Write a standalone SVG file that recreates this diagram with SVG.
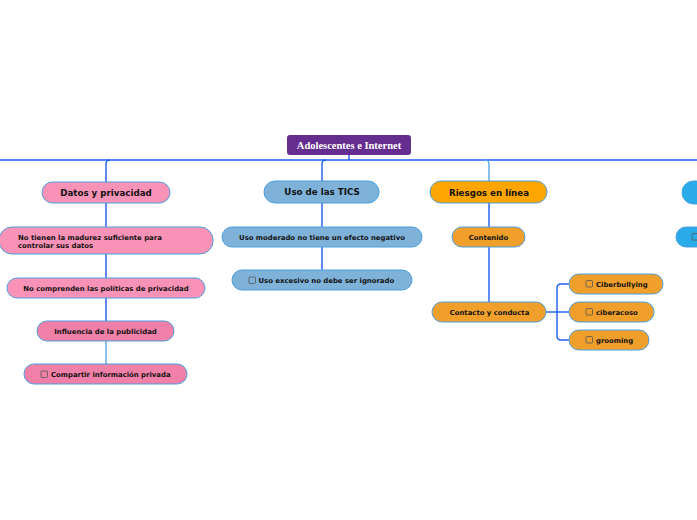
<svg xmlns="http://www.w3.org/2000/svg" width="697" height="520" viewBox="0 0 697 520">
<style>
.bg{fill:#ffffff}
.n{stroke:#4a9fe0;stroke-width:1}
.pk{fill:#f892b6}
.pk2{fill:#f080a8}
.bl{fill:#7fb2d9}
.or{fill:#ffa500}
.or2{fill:#f0a02a}
.cy{fill:#29abe9}
.t{font-family:"DejaVu Sans",Verdana,sans-serif;font-weight:bold;fill:#111111}
.main{font-size:8.7px}
.sub{font-size:6.9px}
.root{font-family:"Liberation Serif","Times New Roman",serif;font-weight:bold;font-size:10.5px;fill:#ffffff}
.cb{fill:none;stroke:#555555;stroke-width:0.8}
.c{fill:none;stroke:#1f5cf5;stroke-width:1.4}
.cl{fill:none;stroke:#58a6e8;stroke-width:1.4}
</style>
<rect class="bg" x="0" y="0" width="697" height="520"/>
<g id="connectors">
<path class="c" d="M349,155 V160"/>
<path class="c" d="M0,160 H697"/>
<path class="c" d="M106,182 V164 Q106,160 110,160"/>
<path class="c" d="M322,181 V164 Q322,160 326,160"/>
<path class="cl" d="M489,181 V164 Q489,160 485,160"/>
<path class="c" d="M106,203 V227"/>
<path class="c" d="M106,254 V278"/>
<path class="c" d="M106,298 V321"/>
<path class="cl" d="M106,341 V364"/>
<path class="c" d="M322,203 V227"/>
<path class="c" d="M322,247 V270"/>
<path class="c" d="M489,203 V227"/>
<path class="c" d="M489,247 V302"/>
<path class="c" d="M546,312 H569"/>
<path class="c" d="M569,284 H561 Q557,284 557,288 V336 Q557,340 561,340 H569"/>
</g>
<g id="root">
<rect x="287" y="135" width="124" height="20" rx="3" fill="#652d90"/>
<text class="root" x="349" y="148.8" text-anchor="middle">Adolescentes e Internet</text>
</g>
<g id="datos">
<rect class="n pk" x="42" y="182" width="128" height="21" rx="10.5"/>
<text class="t main" x="106" y="195.5" text-anchor="middle">Datos y privacidad</text>
</g>
<g id="madurez">
<rect class="n pk" x="-1" y="227" width="214" height="27" rx="13"/>
<text class="t sub" x="18" y="240">No tienen la madurez suficiente para</text>
<text class="t sub" x="18" y="248">controlar sus datos</text>
</g>
<g id="politicas">
<rect class="n pk" x="7" y="278" width="198" height="20" rx="10"/>
<text class="t sub" x="106" y="290.5" text-anchor="middle">No comprenden las políticas de privacidad</text>
</g>
<g id="publicidad">
<rect class="n pk2" x="37" y="321" width="137" height="20" rx="10"/>
<text class="t sub" x="105.5" y="333.5" text-anchor="middle">Influencia de la publicidad</text>
</g>
<g id="compartir">
<rect class="n pk2" x="24" y="364" width="163" height="20" rx="10"/>
<rect class="cb" x="41" y="371" width="6.5" height="6.5" rx="1"/>
<text class="t sub" x="51" y="376.5">Compartir información privada</text>
</g>
<g id="tics">
<rect class="n bl" x="264" y="181" width="115" height="22" rx="11"/>
<text class="t main" x="322" y="195" text-anchor="middle">Uso de las TICS</text>
</g>
<g id="moderado">
<rect class="n bl" x="222" y="227" width="200" height="20" rx="10"/>
<text class="t sub" x="322" y="240" text-anchor="middle">Uso moderado no tiene un efecto negativo</text>
</g>
<g id="excesivo">
<rect class="n bl" x="232" y="270" width="180" height="20" rx="10"/>
<rect class="cb" x="249" y="277" width="6.5" height="6.5" rx="1"/>
<text class="t sub" x="258.5" y="282.5">Uso excesivo no debe ser ignorado</text>
</g>
<g id="riesgos">
<rect class="n or" x="430" y="181" width="117" height="22" rx="11"/>
<text class="t main" x="489" y="195.5" text-anchor="middle">Riesgos en línea</text>
</g>
<g id="contenido">
<rect class="n or2" x="452" y="227" width="73" height="20" rx="10"/>
<text class="t sub" x="488.5" y="240" text-anchor="middle">Contenido</text>
</g>
<g id="contacto">
<rect class="n or2" x="432" y="302" width="114" height="20" rx="10"/>
<text class="t sub" x="489.5" y="315" text-anchor="middle">Contacto y conducta</text>
</g>
<g id="ciberbullying">
<rect class="n or2" x="569" y="274" width="94" height="20" rx="10"/>
<rect class="cb" x="586" y="280.5" width="6.5" height="6.5" rx="1"/>
<text class="t sub" x="596" y="286.5">Ciberbullying</text>
</g>
<g id="ciberacoso">
<rect class="n or2" x="569" y="302" width="85" height="20" rx="10"/>
<rect class="cb" x="586" y="308.5" width="6.5" height="6.5" rx="1"/>
<text class="t sub" x="596" y="314.5">ciberacoso</text>
</g>
<g id="grooming">
<rect class="n or2" x="569" y="330" width="80" height="20" rx="10"/>
<rect class="cb" x="586" y="336.5" width="6.5" height="6.5" rx="1"/>
<text class="t sub" x="596" y="342.5">grooming</text>
</g>
<g id="right-branch">
<rect class="n cy" x="682" y="181" width="60" height="23" rx="11.5"/>
</g>
<g id="right-child">
<rect class="n cy" x="676" y="227" width="60" height="20" rx="10"/>
<rect class="cb" x="692" y="233.5" width="6.5" height="6.5" rx="1"/>
</g>
</svg>
